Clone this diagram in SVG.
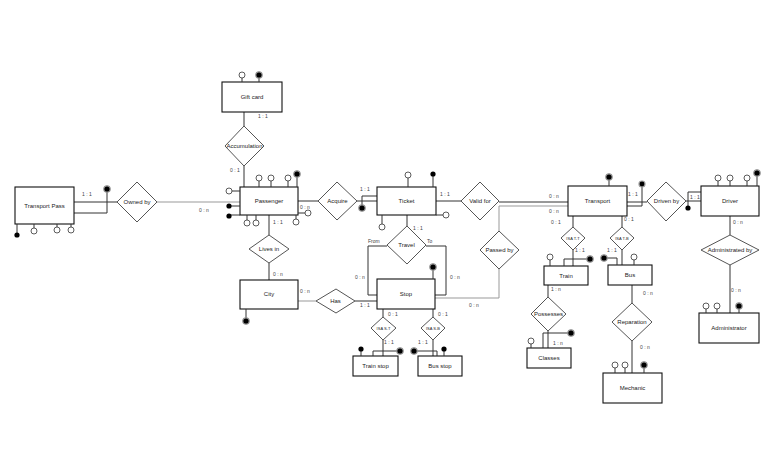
<svg xmlns="http://www.w3.org/2000/svg" width="768" height="467" viewBox="0 0 768 467">
<style>
.bx{fill:#fff;stroke:#111;stroke-width:1.1}
.dm{fill:#fff;stroke:#555;stroke-width:1}
.ln{fill:none;stroke:#333;stroke-width:1}
.lg{fill:none;stroke:#999;stroke-width:1}
.oc{fill:#fff;stroke:#333;stroke-width:0.8}
.fc{fill:#000;stroke:#999;stroke-width:1.2}
.fs{fill:#000}
text{font-family:"Liberation Sans",Arial,sans-serif;fill:#222}
.t{font-size:6px;text-anchor:middle}
.c{font-size:5px;fill:#444}
.i{font-size:4px}
</style>
<rect width="768" height="467" fill="#fff"/>
<g id="connectors">
<line class="ln" x1="74" y1="202" x2="117" y2="202"/>
<polyline class="ln" points="74,213 107,213 107,191"/>
<line class="lg" x1="157" y1="202" x2="240" y2="202"/>
<line class="ln" x1="244" y1="112" x2="244" y2="126"/>
<line class="ln" x1="244" y1="166" x2="244" y2="187"/>
<line class="ln" x1="298" y1="201" x2="318" y2="201"/>
<line class="ln" x1="357" y1="201" x2="377" y2="201"/>
<polyline class="ln" points="362,205 362,196 377,196"/>
<line class="ln" x1="436" y1="201" x2="461" y2="201"/>
<line class="ln" x1="499" y1="202" x2="568" y2="202"/>
<polyline class="lg" points="568,206 499,206 499,231"/>
<polyline class="lg" points="499,269 499,298 435,298"/>
<line class="ln" x1="407" y1="215" x2="407" y2="226"/>
<polyline class="ln" points="387,246 368,246 368,295 377,295"/>
<polyline class="ln" points="426,246 446,246 446,295 435,295"/>
<line class="ln" x1="269" y1="215" x2="269" y2="235"/>
<line class="ln" x1="269" y1="263" x2="269" y2="280"/>
<line class="lg" x1="298" y1="301" x2="316" y2="301"/>
<line class="ln" x1="355" y1="301" x2="377" y2="301"/>
<line class="ln" x1="383" y1="309" x2="383" y2="317"/>
<line class="ln" x1="383" y1="340" x2="383" y2="356"/>
<line class="ln" x1="433" y1="309" x2="433" y2="317"/>
<line class="ln" x1="433" y1="340" x2="433" y2="356"/>
<line class="ln" x1="573" y1="216" x2="573" y2="227"/>
<line class="ln" x1="573" y1="250" x2="573" y2="266"/>
<line class="ln" x1="622" y1="216" x2="622" y2="227"/>
<line class="ln" x1="622" y1="250" x2="622" y2="265"/>
<line class="ln" x1="627" y1="202" x2="647" y2="202"/>
<polyline class="ln" points="627,206 642,206 642,187"/>
<line class="ln" x1="686" y1="201" x2="701" y2="201"/>
<polyline class="ln" points="688,206 688,192 701,192"/>
<line class="ln" x1="730" y1="216" x2="730" y2="235"/>
<line class="ln" x1="730" y1="265" x2="730" y2="313"/>
<line class="ln" x1="548" y1="285" x2="548" y2="297"/>
<line class="ln" x1="548" y1="331" x2="548" y2="348"/>
<line class="ln" x1="632" y1="285" x2="632" y2="303"/>
<line class="ln" x1="632" y1="341" x2="632" y2="373"/>
<circle class="fc" cx="107" cy="189" r="3.2"/>
<circle class="fc" cx="362" cy="208" r="3.2"/>
<circle class="fc" cx="642" cy="184" r="3"/>
<circle class="fs" cx="688" cy="208" r="2.6"/>
<text class="c" x="82" y="196">1 : 1</text>
<text class="c" x="199" y="212">0 : n</text>
<text class="c" x="258" y="118">1 : 1</text>
<text class="c" x="230" y="172">0 : 1</text>
<text class="c" x="300" y="209">0 : n</text>
<text class="c" x="360" y="191">1 : 1</text>
<text class="c" x="440" y="196">1 : 1</text>
<text class="c" x="549" y="198">0 : n</text>
<text class="c" x="549" y="213">0 : n</text>
<text class="c" x="469" y="307">0 : n</text>
<text class="c" x="413" y="230">1 : 1</text>
<text class="c" x="368" y="243">From</text>
<text class="c" x="427" y="243">To</text>
<text class="c" x="355" y="279">0 : n</text>
<text class="c" x="450" y="279">0 : n</text>
<text class="c" x="273" y="224">1 : 1</text>
<text class="c" x="273" y="276">0 : n</text>
<text class="c" x="300" y="293">0 : n</text>
<text class="c" x="360" y="307">1 : 1</text>
<text class="c" x="388" y="316">0 : 1</text>
<text class="c" x="384" y="344">1 : 1</text>
<text class="c" x="438" y="316">0 : 1</text>
<text class="c" x="418" y="344">1 : 1</text>
<text class="c" x="551" y="224">0 : 1</text>
<text class="c" x="575" y="252">1 : 1</text>
<text class="c" x="624" y="221">0 : 1</text>
<text class="c" x="607" y="252">1 : 1</text>
<text class="c" x="628" y="196">1 : 1</text>
<text class="c" x="690" y="199">1 : 1</text>
<text class="c" x="733" y="224">0 : n</text>
<text class="c" x="731" y="292">0 : n</text>
<text class="c" x="551" y="291">1 : n</text>
<text class="c" x="553" y="345">1 : n</text>
<text class="c" x="643" y="295">0 : n</text>
<text class="c" x="640" y="349">0 : n</text>
</g>
<g id="transport-pass">
<rect class="bx" x="15" y="187" width="59" height="37"/>
<text class="t" x="44.5" y="208">Transport Pass</text>
<line class="ln" x1="17" y1="224" x2="17" y2="233"/>
<circle class="fs" cx="17" cy="235" r="2.6"/>
<line class="ln" x1="34" y1="224" x2="34" y2="228"/>
<circle class="oc" cx="34" cy="231" r="3"/>
<line class="ln" x1="57" y1="224" x2="57" y2="227"/>
<circle class="oc" cx="57" cy="230" r="3"/>
<line class="ln" x1="71" y1="224" x2="71" y2="227"/>
<circle class="oc" cx="71" cy="230" r="3"/>
</g>
<g id="owned-by">
<polygon class="dm" points="117,202 137,182 157,202 137,222"/>
<text class="t" x="137" y="204">Owned by</text>
</g>
<g id="gift-card">
<rect class="bx" x="222" y="82" width="60" height="30"/>
<text class="t" x="252" y="99">Gift card</text>
<line class="ln" x1="242" y1="78" x2="242" y2="82"/>
<circle class="oc" cx="242" cy="75" r="3"/>
<line class="ln" x1="259" y1="78" x2="259" y2="82"/>
<circle class="fc" cx="259" cy="75" r="3.2"/>
</g>
<g id="accumulation">
<polygon class="dm" points="225,146 244,126 264,146 244,166"/>
<text class="t" x="244.5" y="148" font-size="5.5">Accumulation</text>
</g>
<g id="passenger">
<rect class="bx" x="240" y="187" width="58" height="28"/>
<text class="t" x="269" y="203">Passenger</text>
<line class="ln" x1="259" y1="181" x2="259" y2="187"/>
<circle class="oc" cx="259" cy="178" r="3"/>
<line class="ln" x1="271" y1="181" x2="271" y2="187"/>
<circle class="oc" cx="271" cy="178" r="3"/>
<line class="ln" x1="288" y1="181" x2="288" y2="187"/>
<circle class="oc" cx="288" cy="178" r="3"/>
<line class="ln" x1="297" y1="177" x2="297" y2="187"/>
<circle class="fc" cx="297" cy="174" r="3.2"/>
<line class="ln" x1="232" y1="191" x2="240" y2="191"/>
<circle class="oc" cx="229" cy="191" r="3"/>
<line class="ln" x1="231" y1="206" x2="240" y2="206"/>
<circle class="fs" cx="229" cy="206" r="2.6"/>
<line class="ln" x1="231" y1="215" x2="240" y2="215"/>
<circle class="fs" cx="229" cy="216" r="2.6"/>
<line class="ln" x1="247" y1="215" x2="247" y2="220"/>
<circle class="oc" cx="247" cy="223" r="3"/>
<line class="ln" x1="256" y1="215" x2="256" y2="220"/>
<circle class="oc" cx="256" cy="223" r="3"/>
<line class="ln" x1="296" y1="215" x2="296" y2="219"/>
<circle class="oc" cx="296" cy="222" r="3"/>
<line class="ln" x1="298" y1="213" x2="305" y2="213"/>
<circle class="oc" cx="308" cy="213" r="3"/>
</g>
<g id="acquire">
<polygon class="dm" points="318,201 337,182 357,201 337,220"/>
<text class="t" x="337.5" y="203">Acquire</text>
</g>
<g id="ticket">
<rect class="bx" x="377" y="187" width="59" height="28"/>
<text class="t" x="406.5" y="203">Ticket</text>
<line class="ln" x1="408" y1="178" x2="408" y2="187"/>
<circle class="oc" cx="408" cy="175" r="3"/>
<line class="ln" x1="433" y1="176" x2="433" y2="187"/>
<circle class="fs" cx="433" cy="174" r="2.6"/>
<line class="ln" x1="382" y1="215" x2="382" y2="224"/>
<circle class="oc" cx="382" cy="227" r="3"/>
<line class="ln" x1="436" y1="215" x2="443" y2="215"/>
<circle class="oc" cx="446" cy="215" r="3"/>
</g>
<g id="valid-for">
<polygon class="dm" points="461,201 480,182 499,201 480,220"/>
<text class="t" x="480" y="203">Valid for</text>
</g>
<g id="passed-by">
<polygon class="dm" points="480,250 499,231 519,250 499,269"/>
<text class="t" x="499.5" y="252">Passed by</text>
</g>
<g id="travel">
<polygon class="dm" points="387,245 407,226 426,245 407,264"/>
<text class="t" x="406.5" y="247">Travel</text>
</g>
<g id="stop">
<rect class="bx" x="377" y="279" width="58" height="30"/>
<text class="t" x="406" y="296">Stop</text>
<line class="ln" x1="433" y1="270" x2="433" y2="279"/>
<circle class="fc" cx="433" cy="267" r="3.2"/>
</g>
<g id="lives-in">
<polygon class="dm" points="249,249 269,235 289,249 269,263"/>
<text class="t" x="269" y="251">Lives in</text>
</g>
<g id="city">
<rect class="bx" x="240" y="280" width="58" height="29"/>
<text class="t" x="269" y="296">City</text>
<line class="ln" x1="246" y1="309" x2="246" y2="318"/>
<circle class="fc" cx="246" cy="321" r="3.2"/>
</g>
<g id="has">
<polygon class="dm" points="316,301 336,289 355,301 336,313"/>
<text class="t" x="335.5" y="303">Has</text>
</g>
<g id="isa-s-t">
<polygon class="dm" points="371,328 383,317 396,328 383,340"/>
<text class="t i" x="383.5" y="329.5">ISA S-T</text>
</g>
<g id="train-stop">
<rect class="bx" x="353" y="356" width="45" height="20"/>
<text class="t" x="375.5" y="368">Train stop</text>
<line class="ln" x1="361" y1="351" x2="361" y2="356"/>
<circle class="fs" cx="361" cy="349" r="2.6"/>
<polyline class="ln" points="373,356 373,351 397,351"/>
<circle class="fc" cx="400" cy="351" r="3.2"/>
</g>
<g id="isa-s-b">
<polygon class="dm" points="421,328 433,317 445,328 433,340"/>
<text class="t i" x="433" y="329.5">ISA S-B</text>
</g>
<g id="bus-stop">
<rect class="bx" x="418" y="356" width="44" height="20"/>
<text class="t" x="440" y="368">Bus stop</text>
<polyline class="ln" points="417,351 437,351 437,356"/>
<circle class="fc" cx="414" cy="351" r="3.2"/>
<line class="ln" x1="444" y1="351" x2="444" y2="356"/>
<circle class="fs" cx="444" cy="349" r="2.6"/>
</g>
<g id="transport">
<rect class="bx" x="568" y="186" width="59" height="30"/>
<text class="t" x="597.5" y="203">Transport</text>
<line class="ln" x1="609" y1="180" x2="609" y2="186"/>
<circle class="fc" cx="609" cy="177" r="3.2"/>
</g>
<g id="isa-t-t">
<polygon class="dm" points="561,238 573,227 585,238 573,250"/>
<text class="t i" x="573" y="239.5">ISA T-T</text>
</g>
<g id="train">
<rect class="bx" x="544" y="266" width="44" height="19"/>
<text class="t" x="566" y="278">Train</text>
<line class="ln" x1="550" y1="260" x2="550" y2="266"/>
<circle class="oc" cx="550" cy="257" r="3"/>
<polyline class="ln" points="564,266 564,259 587,259"/>
<circle class="fc" cx="590" cy="259" r="3.2"/>
</g>
<g id="isa-t-b">
<polygon class="dm" points="610,238 622,227 634,238 622,250"/>
<text class="t i" x="622" y="239.5">ISA T-B</text>
</g>
<g id="bus">
<rect class="bx" x="608" y="265" width="44" height="20"/>
<text class="t" x="630" y="277">Bus</text>
<polyline class="ln" points="607,258 617,258 617,265"/>
<circle class="fc" cx="604" cy="258" r="3.2"/>
<line class="ln" x1="634" y1="260" x2="634" y2="265"/>
<circle class="oc" cx="634" cy="257" r="3"/>
</g>
<g id="driven-by">
<polygon class="dm" points="647,201 666,182 686,201 666,221"/>
<text class="t" x="666.5" y="203">Driven by</text>
</g>
<g id="driver">
<rect class="bx" x="701" y="186" width="58" height="30"/>
<text class="t" x="730" y="203">Driver</text>
<line class="ln" x1="718" y1="181" x2="718" y2="186"/>
<circle class="oc" cx="718" cy="178" r="3"/>
<line class="ln" x1="730" y1="181" x2="730" y2="186"/>
<circle class="oc" cx="730" cy="178" r="3"/>
<line class="ln" x1="747" y1="181" x2="747" y2="186"/>
<circle class="oc" cx="747" cy="178" r="3"/>
<line class="ln" x1="757" y1="176" x2="757" y2="186"/>
<circle class="fc" cx="757" cy="173" r="3.2"/>
</g>
<g id="administrated-by">
<polygon class="dm" points="701,250 730,235 759,250 730,265"/>
<text class="t" x="730" y="252">Administrated by</text>
</g>
<g id="administrator">
<rect class="bx" x="699" y="313" width="60" height="30"/>
<text class="t" x="729" y="330">Administrator</text>
<line class="ln" x1="706" y1="309" x2="706" y2="313"/>
<circle class="oc" cx="706" cy="306" r="3"/>
<line class="ln" x1="717" y1="309" x2="717" y2="313"/>
<circle class="oc" cx="717" cy="306" r="3"/>
<line class="ln" x1="739" y1="309" x2="739" y2="313"/>
<circle class="fc" cx="739" cy="306" r="3.2"/>
</g>
<g id="possesses">
<polygon class="dm" points="531,314 548,297 566,314 548,331"/>
<text class="t" x="548.5" y="316" font-size="5.5">Possesses</text>
</g>
<g id="classes">
<rect class="bx" x="527" y="348" width="44" height="20"/>
<text class="t" x="549" y="360">Classes</text>
<line class="ln" x1="531" y1="344" x2="531" y2="348"/>
<circle class="oc" cx="531" cy="341" r="3"/>
<polyline class="ln" points="543,348 543,333 568,333"/>
<circle class="fc" cx="571" cy="333" r="3.2"/>
</g>
<g id="reparation">
<polygon class="dm" points="612,322 632,303 652,322 632,341"/>
<text class="t" x="632" y="324" font-size="5.5">Reparation</text>
</g>
<g id="mechanic">
<rect class="bx" x="603" y="373" width="59" height="30"/>
<text class="t" x="632.5" y="390">Mechanic</text>
<line class="ln" x1="615" y1="368" x2="615" y2="373"/>
<circle class="oc" cx="615" cy="365" r="3"/>
<line class="ln" x1="625" y1="368" x2="625" y2="373"/>
<circle class="oc" cx="625" cy="365" r="3"/>
<line class="ln" x1="644" y1="368" x2="644" y2="373"/>
<circle class="fc" cx="644" cy="365" r="3.2"/>
</g>
</svg>
